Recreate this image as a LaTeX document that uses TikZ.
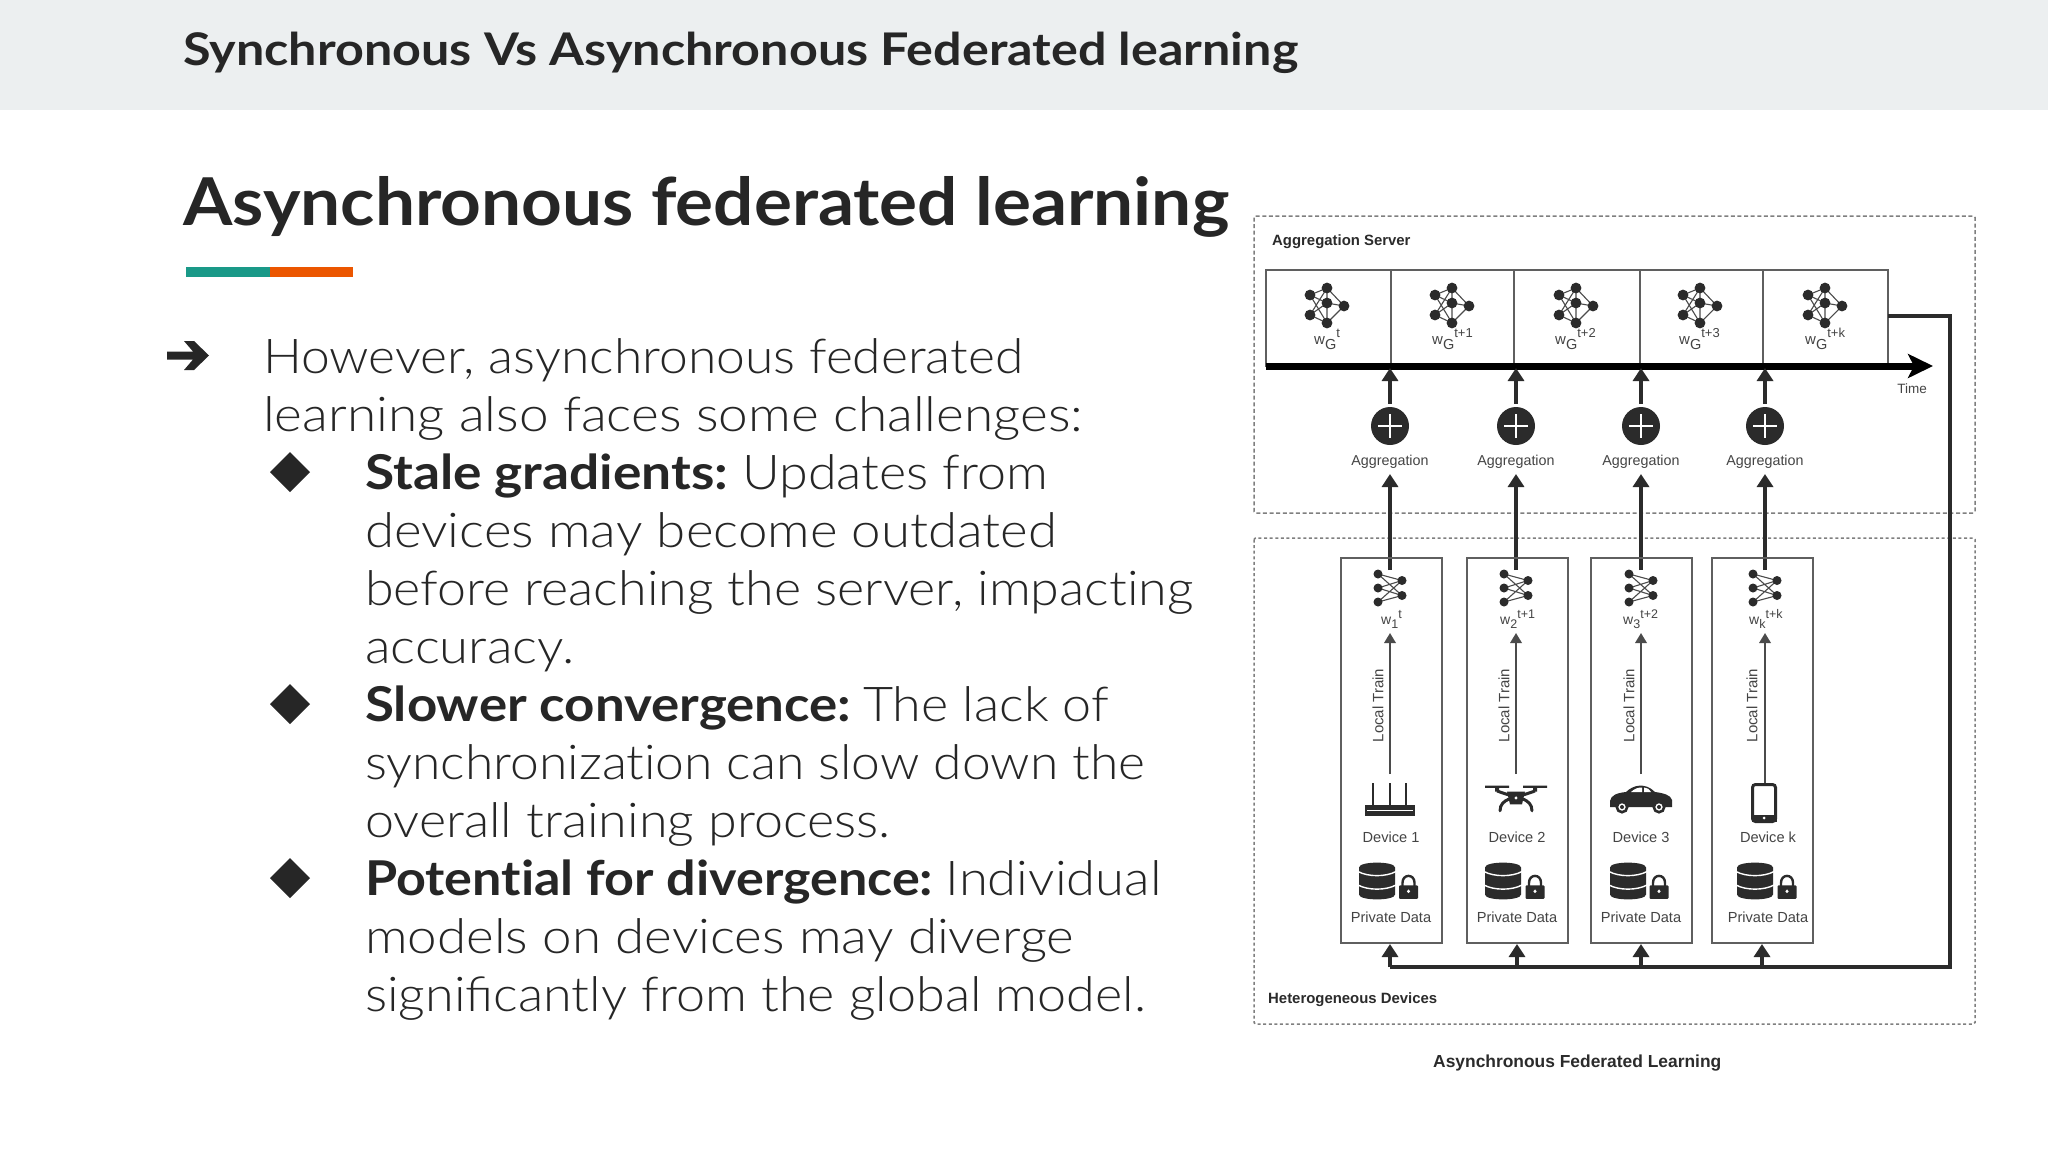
\documentclass[tikz,border=0pt]{standalone}
\usepackage{graphicx}
\usepackage{fontspec}
\setmainfont{Lato Light}[BoldFont=Lato Bold]
\newfontfamily\lab{Liberation Sans}
\usetikzlibrary{arrows.meta}
\definecolor{ink}{HTML}{262626}
\definecolor{band}{HTML}{ECEFF0}
\definecolor{tealbar}{HTML}{1A9988}
\definecolor{orangebar}{HTML}{EB5600}
\definecolor{dia}{HTML}{444444}
\definecolor{boxc}{HTML}{5F5F5F}
\definecolor{dark}{HTML}{2B2B2B}
\tikzset{
 txt/.style={anchor=base west,inner sep=0pt,text=ink},
 lbl/.style={anchor=base,inner sep=0pt,text=dia,font=\lab\fontsize{14.6}{16}\selectfont},
 blbl/.style={anchor=base west,inner sep=0pt,text=dark,font=\lab\bfseries\fontsize{14.9}{16}\selectfont},
 region/.style={draw=boxc!80,line width=1.5pt,dash pattern=on 4pt off 2.6pt,rounded corners=1.5pt},
 devbox/.style={draw=boxc,line width=2pt,minimum width=101pt,minimum height=385.5pt,inner sep=0pt},
 uparrow/.style={draw=dark,line width=3.6pt,-{Triangle[length=13pt,width=16pt]}},
 thinup/.style={draw=dark!85,line width=1.8pt,-{Triangle[length=10pt,width=11.5pt]}},
 feed/.style={draw=dark,line width=3.2pt},
}
\newcommand\bodyline[6]{\node[txt] (#1) at (#2,#3) {\resizebox{#4pt}{\height}{\fontsize{#5}{#5}\selectfont #6}};}
\newcommand\bignet[2]{\begin{scope}[shift={(#1,#2)}]
 \draw[dark!85,line width=1.1pt] (-17,-8)--(0,0)--(-17,12)--(0,-15)--(17,3)--(0,20)--(-17,-8)--(0,-15)--(0,20) (-17,12)--(0,20) (0,0)--(17,3);
 \foreach \a/\b in {-17/-8,0/-15,0/0,17/3,-17/12,0/20}{\fill[dark] (\a,\b) circle (5.4);}
\end{scope}}
\newcommand\smallnet[2]{\begin{scope}[shift={(#1,#2)}]
 \draw[dark!85,line width=1.1pt] (-12,-14)--(12,-7.5) (-12,-14)--(12,7.5) (-12,0)--(12,-7.5) (-12,0)--(12,7.5) (-12,14)--(12,-7.5) (-12,14)--(12,7.5);
 \foreach \a/\b in {-12/-14,-12/0,-12/14,12/-7.5,12/7.5}{\fill[dark] (\a,\b) circle (4.5);}
\end{scope}}
\newcommand\dbase[2]{\begin{scope}[shift={(#1,#2)}]
 \fill[dark] (-18,-13.5) .. controls (-18,-20) and (18,-20) .. (18,-13.5) -- (18,13.5) .. controls (18,20) and (-18,20) .. (-18,13.5) -- cycle;
 \draw[white,line width=1.4pt] (-19,-9.5) .. controls (-9,-4) and (9,-4) .. (19,-9.5);
 \draw[white,line width=1.4pt] (-19,4) .. controls (-9,9.5) and (9,9.5) .. (19,4);
\end{scope}}
\newcommand\lockicon[2]{\begin{scope}[shift={(#1,#2)},yscale=1.07]
 \draw[dark,line width=2.4pt] (-6,0) -- (-6,-4) .. controls (-6,-12.5) and (6,-12.5) .. (6,-4) -- (6,0);
 \fill[dark,rounded corners=1pt] (-9.5,-1.5) rectangle (9.5,11);
 \fill[white] (0,4) circle (1.7);
\end{scope}}
\begin{document}
\begin{tikzpicture}[x=1pt,y=-1pt]
\path[use as bounding box,fill=white] (0,0) rectangle (2048,1152);
\fill[band] (0,0) rectangle (2048,109.5);
\node[txt] (title) at (183,65) {\resizebox{1115pt}{\height}{\fontsize{45}{45}\selectfont\bfseries Synchronous Vs Asynchronous Federated learning}};
\node[txt] (heading) at (183,225) {\resizebox{1046pt}{\height}{\fontsize{66}{66}\selectfont\bfseries Asynchronous federated learning}};
\fill[tealbar] (186,267) rectangle (270,277);
\fill[orangebar] (270,267) rectangle (353,277);
% bullets
\fill[ink] (167,351.5) -- (193,351.5) -- (184,341) -- (194,341) -- (209,355.5) -- (194,370) -- (184,370) -- (193,359.5) -- (167,359.5) -- cycle;
\foreach \y in {472,704,878}{\fill[ink] (290,\y-20) -- (310,\y) -- (290,\y+20) -- (270,\y) -- cycle;}
% body
\bodyline{b1}{263}{373}{760}{48}{However, asynchronous federated}
\bodyline{b2}{263}{431}{820}{48}{learning also faces some challenges:}
\bodyline{b3a}{365}{489}{363}{48}{\textbf{Stale gradients:}}
\bodyline{b3b}{742}{489}{306}{48}{Updates from}
\bodyline{b4}{365}{547}{692}{48}{devices may become outdated}
\bodyline{b5}{365}{605}{828}{48}{before reaching the server, impact\kern0pt ing}
\bodyline{b6}{365}{663}{209}{48}{accuracy.}
\bodyline{b7a}{365}{721}{486}{48}{\textbf{Slower convergence:}}
\bodyline{b7b}{863}{721}{246}{48}{The lack of}
\bodyline{b8}{365}{779}{780}{48}{synchronizat\kern0pt ion can slow down the}
\bodyline{b9}{365}{837}{525}{48}{overall training process.}
\bodyline{b10a}{365}{895}{568}{48}{\textbf{Potent\kern0pt ial for divergence:}}
\bodyline{b10b}{945.5}{895}{216}{48}{Individual}
\bodyline{b11}{365}{953}{709}{48}{models on devices may diverge}
\bodyline{b12}{365}{1011}{781}{48}{significantly from the global model.}
% regions
\draw[region] (1254,216) rectangle (1975,513);
\draw[region,dash pattern=on 3pt off 2.6pt] (1254,538) rectangle (1975,1024);
\node[blbl] (serverlabel) at (1272,245) {Aggregation Server};
\node[blbl] (hetlabel) at (1268,1003.5) {Heterogeneous Devices};
\node[blbl,font=\lab\bfseries\fontsize{17.4}{19}\selectfont] (caption) at (1433,1067) {Asynchronous Federated Learning};
% model row
\node[draw=boxc,line width=2.4pt,minimum width=622pt,minimum height=96pt,inner sep=0pt] (row) at (1577,318) {};
\foreach \x in {1391,1514,1640,1763}{\draw[boxc,line width=1.8pt] (\x,270) -- (\x,366);}
\coordinate (barstart) at (1266,366);
\coordinate (barend) at (1933,366);
\draw[black,line width=7pt,-{Stealth[length=25pt,width=24pt,inset=6pt]}] (barstart) -- (barend);
\node[lbl,font=\lab\fontsize{13.5}{15}\selectfont] (time) at (1912,393) {Time};
% global models
\foreach \i/\cx/\wx/\s in {1/1327/1314/t,2/1452/1432/t+1,3/1576/1555/t+2,4/1700/1679/t+3,5/1825/1805/t+k}{
 \bignet{\cx}{303}
 \node[anchor=base west,inner sep=0pt,text=dia,font=\lab\fontsize{15}{16}\selectfont] (wg\i) at (\wx,344) {w\raisebox{-5pt}{\fontsize{14.5}{16}\selectfont G}\raisebox{7pt}{\fontsize{13}{14}\selectfont\s}};
}
% aggregation columns
\foreach \i/\x in {1/1390,2/1516,3/1641,4/1765}{
 \node[circle,fill=dark,minimum size=38pt,inner sep=0pt] (plus\i) at (\x,426) {};
 \draw[white,line width=2.8pt] (\x-12,426) -- (\x+12,426) (\x,414) -- (\x,438);
 \coordinate (bar\i) at (\x,368);
 \draw[uparrow,shorten <=3pt] (plus\i) -- (bar\i);
 \node[lbl,font=\lab\fontsize{14.3}{16}\selectfont] (agg\i) at (\x,465) {Aggregation};
 \coordinate (lowtop\i) at (\x,474);
 \coordinate (lowbot\i) at (\x,570);
 \draw[uparrow] (lowbot\i) -- (lowtop\i);
}
% device boxes
\foreach \i/\cx in {1/1391.5,2/1517,3/1641.5,4/1762}{\node[devbox] (dev\i) at (\cx,750.5) {};}
% device contents
\foreach \i/\x/\wx/\sb/\sp/\tx/\dx/\lx/\tcx/\tb in {1/1390/1381/1/t/1378/1377/1408.5/1391/774,2/1516/1500/2/t+1/1504/1503/1535/1517/774,3/1641/1623/3/t+2/1629/1628/1659/1641/774,4/1765/1749/k/t+k/1752/1755/1787/1768/783}{
 \smallnet{\x}{588}
 \node[anchor=base west,inner sep=0pt,text=dia,font=\lab\fontsize{14}{15}\selectfont] (wl\i) at (\wx,624) {w\raisebox{-4pt}{\fontsize{12.5}{13}\selectfont\sb}\raisebox{6pt}{\fontsize{12.5}{13}\selectfont\sp}};
 \coordinate (trainbot\i) at (\x,\tb);
 \coordinate (traintop\i) at (\x,633);
 \draw[thinup] (trainbot\i) -- (traintop\i);
 \node[lbl,rotate=90,anchor=center,font=\lab\fontsize{15}{16}\selectfont] (train\i) at (\tx,705.5) {Local Train};
 \node[lbl] (device\i) at (\tcx,842) {\ifnum\i=4 Device k\else Device \i\fi};
 \dbase{\dx}{881}
 \lockicon{\lx}{887}
 \node[lbl] (priv\i) at (\tcx,922) {Private Data};
}
% router
\fill[dark] (1365,805) rectangle (1415,816);
\draw[white,line width=.8pt] (1367,810) -- (1413,810);
\draw[dark,line width=1.8pt] (1373,783) -- (1373,805) (1390,783) -- (1390,805) (1406,783) -- (1406,805);
% drone
\begin{scope}[shift={(1516,799)},yscale=1.07]
 \fill[dark] (-31,-12.5) rectangle (-7,-10.5) (7,-12.5) rectangle (31,-10.5);
 \fill[dark] (-21,-10.5) rectangle (-17,-7) (17,-10.5) rectangle (21,-7);
 \draw[dark,line width=3pt] (-19,-7.5) -- (-8,-4) -- (8,-4) -- (19,-7.5);
 \fill[dark] (-9,-7) -- (9,-7) -- (6,5) -- (-6,5) -- cycle;
 \draw[dark,line width=3pt,line cap=round] (-7,0) .. controls (-12,2) and (-16,5) .. (-16,11);
 \draw[dark,line width=3pt,line cap=round] (7,0) .. controls (12,2) and (16,5) .. (16,11);
 \fill[white] (0,-1) circle (1.6);
\end{scope}
% car
\begin{scope}[shift={(1641,800)}]
 \fill[dark] (-31,1) .. controls (-30,-5) and (-24,-7) .. (-15,-8) .. controls (-8,-15) and (4,-18) .. (14,-8) .. controls (22,-7) and (30,-5) .. (31,0) -- (31,7) -- (-31,7) -- cycle;
 \fill[white] (-10,-8) .. controls (-6,-12) and (-2,-12.5) .. (1,-12.5) -- (1,-8) -- cycle;
 \fill[white] (3,-12.5) .. controls (6,-12.5) and (8,-11) .. (10,-8) -- (3,-8) -- cycle;
 \foreach \a in {-19,18}{\filldraw[fill=white,draw=dark,line width=2.6pt] (\a,7) circle (5.2); \fill[dark] (\a,7) circle (2);}
\end{scope}
% tablet
\draw[dark,line width=3pt,rounded corners=3pt] (1752.5,784.5) rectangle (1775.5,821.5);
\fill[dark] (1751.5,814.5) rectangle (1776.5,821.5);
\fill[white] (1764,818) circle (1.5);
% feedback line
\coordinate (fbstart) at (1888,316);
\coordinate (fbturn) at (1950,316);
\coordinate (fbdown) at (1950,967);
\coordinate (fbleft) at (1390,967);
\draw[feed] (fbstart) -- (fbturn) -- (fbdown) -- (fbleft);
\foreach \i/\x in {1/1390,2/1517,3/1641,4/1762}{
 \coordinate (fbb\i) at (\x,967);
 \coordinate (fbt\i) at (\x,944);
 \draw[uparrow] (fbb\i) -- (fbt\i);
}
\end{tikzpicture}
\end{document}
